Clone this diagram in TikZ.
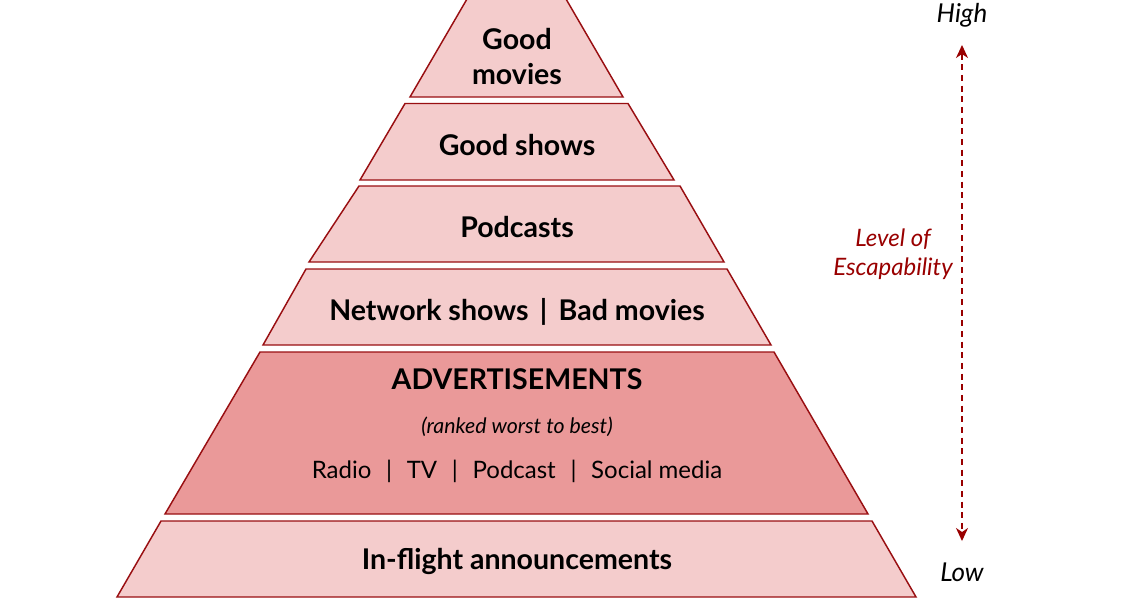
\documentclass[tikz,border=0pt]{standalone}
\usepackage{fontspec}
\setmainfont{Lato}
\usepackage{xcolor}
\usetikzlibrary{arrows.meta}
\usetikzlibrary{positioning}
\definecolor{tierline}{HTML}{990F12}
\definecolor{tierfill}{HTML}{F4CCCC}
\definecolor{adfill}{HTML}{EA9999}
\definecolor{scalered}{HTML}{990000}
\tikzset{
  tier/.style={draw=tierline, fill=tierfill, line width=1.1pt, line join=miter},
  adtier/.style={tier, fill=adfill},
  tierlabel/.style={font=\fontsize{21.4}{26}\selectfont\bfseries, align=center, text=black},
  scaleend/.style={font=\fontsize{19.5}{23}\selectfont\itshape, text=black},
  scalelabel/.style={font=\fontsize{18}{21.7}\selectfont\itshape, align=center, text=scalered}
}
\newcommand{\barsep}{\hspace{11pt}|\hspace{11pt}}

\begin{document}
\begin{tikzpicture}[x=0.75pt, y=-0.75pt]

    \useasboundingbox (0, 0) rectangle (1134, 600);

    \begin{scope}
      \clip (0, 0) rectangle (1134, 600);
      \draw [tier] (467, -1) -- (566, -1) -- (623, 97) -- (410, 97) -- cycle;
    \end{scope}
    \draw [tier] (405, 103.5) -- (628, 103.5) -- (674, 180) -- (360, 180) -- cycle;
    \draw [tier] (359, 186) -- (680, 186) -- (724, 262) -- (309, 262) -- cycle;
    \draw [tier] (306, 269) -- (727, 269) -- (771, 345) -- (263, 345) -- cycle;
    \draw [adtier] (260, 352) -- (774, 352) -- (868, 514) -- (165, 514) -- cycle;
    \draw [tier] (161, 521) -- (872, 521) -- (916, 597) -- (117, 597) -- cycle;

    \node [tierlabel] (goodmovies) at (517, 56.5) {Good\\movies};
    \node [tierlabel] (goodshows) at (517, 145) {Good shows};
    \node [tierlabel] (podcasts) at (517, 227) {Podcasts};
    \node [tierlabel] (network) at (517, 312) {Network shows\hspace{8.5pt}|\hspace{8.5pt}Bad movies};
    \node [tierlabel] (ads) at (517, 379) {ADVERTISEMENTS};
    \node [font=\fontsize{16}{19}\selectfont\itshape] (ranked) at (517, 426.5) {(ranked worst to best)};
    \node [font=\fontsize{18}{22}\selectfont] (channels) at (517, 471)
    {Radio\barsep TV\barsep Podcast\barsep Social media};
    \node [tierlabel] (inflight) at (517, 561.5) {In-flight announcements};

    \node [scaleend] (high) at (962, 15) {High};
    \node [scaleend] (low) at (962, 572) {Low};
    \node [scalelabel] (level) at (893, 254) {Level of\\Escapability};

    \coordinate (scaletop) at (962, 45);
    \coordinate (scalebottom) at (962, 541);
    \draw [{Stealth[length=13pt*0.75, width=12pt*0.75, inset=3pt]}-{Stealth[length=13pt*0.75, width=12pt*0.75, inset=3pt]},
      scalered, dash pattern=on 4.5pt off 3.5pt, line width=1pt] (scaletop) -- (scalebottom);

  \end{tikzpicture}
\end{document}
